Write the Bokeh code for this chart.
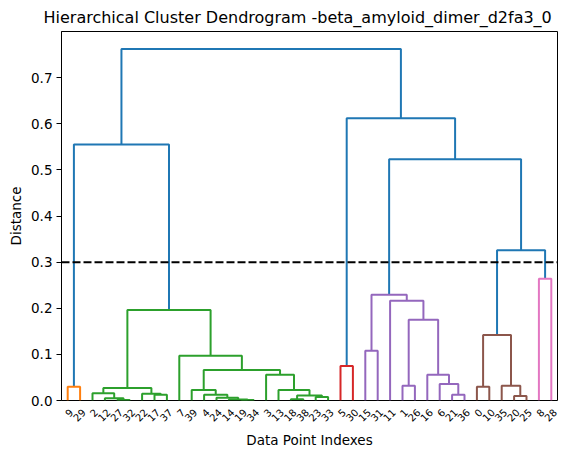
import math
from bokeh.plotting import figure
from bokeh.models import Span, FixedTicker, Range1d, PrintfTickFormatter, LinearAxis
from bokeh.embed import file_html
from bokeh.resources import INLINE

# ---- data (scipy-style linkage: row k creates cluster id 40 + k) ----
n_leaves = 40
link_left = [27, 12, 2, 17, 22, 42, 19, 14, 24, 4, 39, 18, 23, 51, 13, 3, 50, 7, 45,
             9, 59, 5, 15, 1, 21, 6, 16, 63, 11, 62, 0, 20, 35, 70, 8, 73, 69, 61, 60]
link_right = [32, 40, 41, 37, 43, 44, 34, 46, 47, 48, 49, 38, 33, 52, 53, 54, 55, 56, 57,
              29, 58, 30, 31, 26, 36, 64, 65, 66, 67, 68, 10, 25, 71, 72, 28, 74, 75, 76, 77]
link_height = [0.001, 0.005, 0.0155, 0.0125, 0.0145, 0.027, 0.001, 0.0022, 0.006, 0.0126,
               0.0227, 0.0026, 0.0075, 0.011, 0.0227, 0.056, 0.066, 0.097, 0.196,
               0.030, 0.555, 0.075, 0.108, 0.032, 0.0125, 0.036, 0.056, 0.175, 0.216, 0.229,
               0.030, 0.010, 0.032, 0.142, 0.264, 0.326, 0.523, 0.612, 0.762]
color_threshold = 0.3
y_ticks = [0.0, 0.1, 0.2, 0.3, 0.4, 0.5, 0.6, 0.7]
cluster_palette = ["#ff7f0e", "#2ca02c", "#d62728", "#9467bd", "#8c564b", "#e377c2",
                   "#bcbd22", "#17becf", "#7f7f7f"]
above_color = "#1f77b4"

# ---- layout of the dendrogram (scipy coordinates: leaf i at 10*i+5) ----
children = {n_leaves + k: (a, b, h) for k, (a, b, h) in enumerate(zip(link_left, link_right, link_height))}
root = n_leaves + len(link_left) - 1

order = []
def collect(node):
    if node < n_leaves:
        order.append(node)
    else:
        a, b, _ = children[node]
        collect(a)
        collect(b)
collect(root)
leaf_x = {leaf: 10 * i + 5 for i, leaf in enumerate(order)}

node_x, node_y = {}, {}
def place(node):
    if node < n_leaves:
        node_x[node], node_y[node] = leaf_x[node], 0.0
    else:
        a, b, h = children[node]
        place(a); place(b)
        node_x[node] = (node_x[a] + node_x[b]) / 2
        node_y[node] = h
place(root)

xs, ys, cols = [], [], []
counter = [0]
def draw(node, color):
    if node < n_leaves:
        return
    a, b, h = children[node]
    if color is None and h < color_threshold:
        color = cluster_palette[counter[0] % len(cluster_palette)]
        counter[0] += 1
    xs.append([node_x[a], node_x[a], node_x[b], node_x[b]])
    ys.append([node_y[a], h, h, node_y[b]])
    cols.append(color if color else above_color)
    draw(a, color)
    draw(b, color)
draw(root, None)

# ---- figure ----
x_max = 10 * n_leaves
p = figure(width=584, height=456, x_range=Range1d(0, x_max), y_range=Range1d(0, 0.8),
           output_backend="svg", toolbar_location=None, x_axis_location=None,
           min_border_left=61, min_border_right=27, min_border_top=31, min_border_bottom=56,
           title="Hierarchical Cluster Dendrogram -beta_amyloid_dimer_d2fa3_0")
p.background_fill_color = "white"
p.border_fill_color = "white"
p.outline_line_color = "black"
p.outline_line_width = 1
p.xgrid.visible = False
p.ygrid.visible = False

p.title.align = "left"
p.title.offset = -18
p.title.standoff = 10
p.title.text_font = "DejaVu Sans"
p.title.text_font_size = "16px"
p.title.text_font_style = "normal"
p.title.text_color = "black"

p.multi_line(xs=xs, ys=ys, line_color=cols, line_width=2)
p.add_layout(Span(location=color_threshold, dimension="width", line_color="black",
                  line_dash="8 3", line_width=2))

# y axis
p.yaxis.ticker = FixedTicker(ticks=y_ticks)
p.yaxis.formatter = PrintfTickFormatter(format="%.1f")
p.yaxis.major_tick_out = 5
p.yaxis.major_tick_in = 0
p.yaxis.minor_tick_out = 0
p.yaxis.minor_tick_in = 0
p.yaxis.major_label_standoff = 4
p.yaxis.major_label_text_font = "DejaVu Sans"
p.yaxis.major_label_text_font_size = "13.5px"
p.yaxis.major_label_text_color = "black"
p.yaxis.axis_label = "Distance"
p.yaxis.axis_label_text_font = "DejaVu Sans"
p.yaxis.axis_label_text_font_size = "13.5px"
p.yaxis.axis_label_text_font_style = "normal"
p.yaxis.axis_label_text_color = "black"
p.yaxis.axis_label_standoff = 4
p.yaxis.axis_line_color = "black"
p.yaxis.major_tick_line_color = "black"

# x axis: leaf labels (label range nudged a few pixels so rotated labels centre on leaves)
ticks = [leaf_x[l] for l in order]
shift = 3.5 * x_max / 495.0
p.extra_x_ranges = {"lbl": Range1d(-shift, x_max - shift)}
xax = LinearAxis(x_range_name="lbl", ticker=FixedTicker(ticks=ticks))
xax.major_label_overrides = {t: str(l) for t, l in zip(ticks, order)}
xax.major_label_orientation = math.pi / 4
xax.major_label_standoff = 10
xax.major_label_text_font = "DejaVu Sans"
xax.major_label_text_font_size = "10px"
xax.major_label_text_color = "black"
xax.major_tick_out = 0
xax.major_tick_in = 0
xax.minor_tick_out = 0
xax.minor_tick_in = 0
xax.axis_line_color = None
xax.axis_label = "Data Point Indexes"
xax.axis_label_text_font = "DejaVu Sans"
xax.axis_label_text_font_size = "13.5px"
xax.axis_label_text_font_style = "normal"
xax.axis_label_text_color = "black"
xax.axis_label_standoff = 4
p.add_layout(xax, "below")

open("out.html", "w").write(file_html(p, INLINE))
